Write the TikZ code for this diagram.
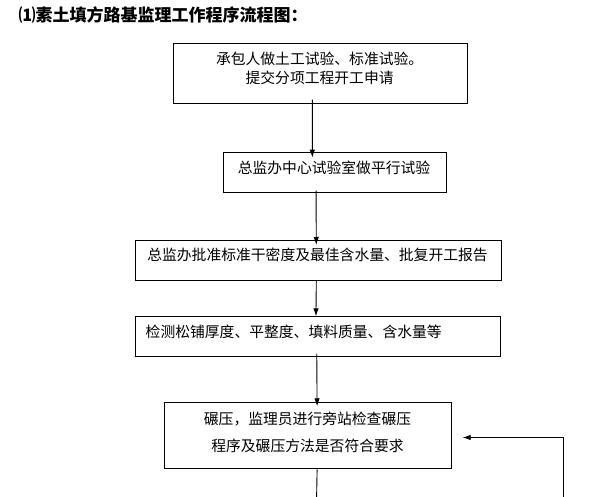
\documentclass[tikz,border=0pt]{standalone}
\usepackage{fontspec}
\setmainfont{Noto Sans CJK SC}
\usetikzlibrary{arrows.meta}
\begin{document}
\begin{tikzpicture}[x=1pt,y=-1pt,
  box/.style={draw=black,line width=1pt,inner sep=0pt,anchor=north west},
  txt/.style={inner sep=0pt,font=\fontsize{14.8}{18}\selectfont},
  arr/.style={line width=0.9pt,-{Latex[length=8pt,width=5.5pt]}},
  ln/.style={line width=0.9pt}]
\useasboundingbox (0,0) rectangle (592,497);
\fill[white] (0,0) rectangle (592,497);
\node[inner sep=0pt,anchor=west,font=\fontsize{17}{20}\selectfont\bfseries] (title) at (18.5,15) {⑴素土填方路基监理工作程序流程图：};
% boxes
\node[box,minimum width=294pt,minimum height=60pt] (b1) at (172.7,43.3) {};
\node[box,minimum width=223.3pt,minimum height=40pt] (b2) at (222.5,152.3) {};
\node[box,minimum width=366pt,minimum height=40pt] (b3) at (134.5,240) {};
\node[box,minimum width=365.3pt,minimum height=39.7pt] (b4) at (134.5,316.3) {};
\node[box,minimum width=286.4pt,minimum height=66pt] (b5) at (164.3,402.3) {};
% texts
\node[txt] (t1a) at (319.6,59) {承包人做土工试验、标准试验。};
\node[txt] (t1b) at (319.6,78) {提交分项工程开工申请};
\node[txt] (t2) at (334,168) {总监办中心试验室做平行试验};
\node[txt] (t3) at (317.5,255) {总监办批准标准干密度及最佳含水量、批复开工报告};
\node[txt,anchor=west] (t4) at (145.5,331.7) {检测松铺厚度、平整度、填料质量、含水量等};
\node[txt] (t5a) at (307.5,419) {碾压，监理员进行旁站检查碾压};
\node[txt] (t5b) at (307.5,446) {程序及碾压方法是否符合要求};
% connectors
\draw[arr] ([xshift=-7.9pt,yshift=4.7pt]b1.south) -- ([xshift=-22.3pt,yshift=-5.3pt]b2.north);
\draw[arr] ([xshift=-18.6pt,yshift=2.7pt]b2.south) -- ([xshift=-1.7pt,yshift=-5pt]b3.north);
\draw[arr] ([xshift=-1.7pt]b3.south) -- ([xshift=-1.7pt]b4.north);
\draw[arr] ([xshift=-0.9pt,yshift=3.3pt]b4.south) -- ([xshift=9.1pt,yshift=-4pt]b5.north);
\coordinate (down) at (316.6,497.5);
\coordinate (fbbot) at (563.7,497.5);
\coordinate (fbtop) at (563.7,437.5);
\coordinate (fbtip) at (462.7,437.5);
\draw[ln] ([xshift=9.1pt]b5.south) -- (down);
\draw[arr] (fbbot) -- (fbtop) -- (fbtip);
\end{tikzpicture}
\end{document}
